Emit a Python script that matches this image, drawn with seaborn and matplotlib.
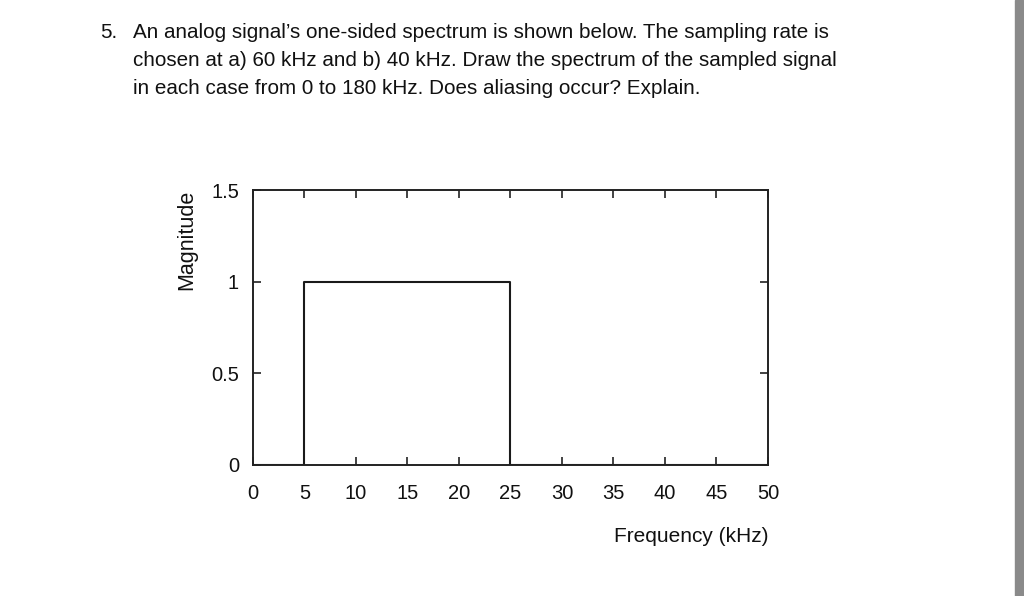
import matplotlib
matplotlib.use("Agg")
import matplotlib.pyplot as plt
import seaborn as sns
import pandas as pd

freq_khz = [0, 5, 5, 25, 25, 50]
magnitude = [0, 0, 1, 1, 0, 0]
x_ticks = [0, 5, 10, 15, 20, 25, 30, 35, 40, 45, 50]
y_ticks = [0, 0.5, 1, 1.5]
y_tick_labels = ["0", "0.5", "1", "1.5"]

question_lines = [
    "An analog signal\u2019s one-sided spectrum is shown below. The sampling rate is",
    "chosen at a) 60 kHz and b) 40 kHz. Draw the spectrum of the sampled signal",
    "in each case from 0 to 180 kHz. Does aliasing occur? Explain.",
]

sns.set_theme(style="white")
plt.rcParams["font.family"] = ["Liberation Sans", "DejaVu Sans"]

fig = plt.figure(figsize=(10.24, 5.96), dpi=100)
ax = fig.add_axes([0.247, 0.22, 0.503, 0.461])

df = pd.DataFrame({"f": freq_khz, "m": magnitude})
sns.lineplot(data=df, x="f", y="m", sort=False, estimator=None, color="#1a1a1a",
             linewidth=1.5, ax=ax)

ax.set_xlim(0, 50)
ax.set_ylim(0, 1.5)
ax.set_xticks(x_ticks)
ax.set_xticklabels([str(t) for t in x_ticks])
ax.set_yticks(y_ticks)
ax.set_yticklabels(y_tick_labels)
ax.tick_params(direction="in", length=6, width=1.2, color="#222222",
               top=True, right=True, bottom=True, left=True,
               labelsize=14.5, labelcolor="#111111")
ax.tick_params(axis="x", pad=14)
ax.tick_params(axis="y", pad=10)
for s in ax.spines.values():
    s.set_visible(True)
    s.set_color("#222222")
    s.set_linewidth(1.4)

ax.set_xlabel("")
ax.set_ylabel("")
fig.text(0.75, 1 - 537 / 596, "Frequency (kHz)", ha="right", va="center", fontsize=15,
         color="#111111")
fig.text(187 / 1024, 1 - 240 / 596, "Magnitude", ha="center", va="center", rotation=90,
         fontsize=15.5, color="#111111")

# question text
fig.text(100 / 1024, 1 - 32 / 596, "5.", ha="left", va="center", fontsize=14.9,
         color="#111111")
for i, line in enumerate(question_lines):
    fig.text(133 / 1024, 1 - (32 + 28 * i) / 596, line, ha="left", va="center",
             fontsize=14.9, color="#111111")

# grey bar at right edge (page border)
fig.patches.append(plt.Rectangle((1015 / 1024, 0), 8 / 1024, 1, transform=fig.transFigure,
                                 color="#8a8a8a", zorder=5))

fig.savefig("out.png", dpi=100, facecolor="white")
